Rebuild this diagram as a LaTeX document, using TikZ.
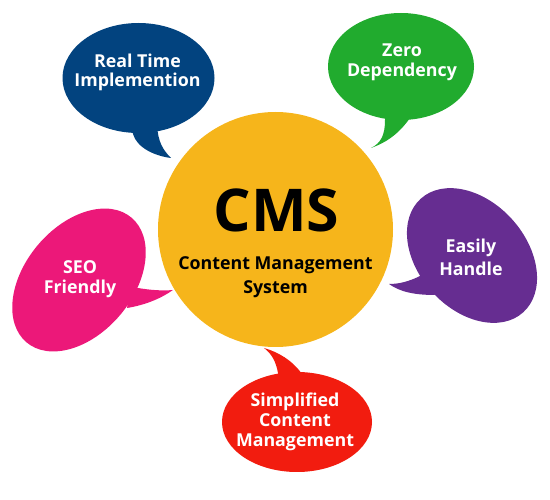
\documentclass[tikz,border=0pt]{standalone}
\usepackage{fontspec}
\setmainfont{Open Sans}
\usetikzlibrary{shapes.geometric}
\definecolor{cyel}{HTML}{F6B51B}
\definecolor{cblue}{HTML}{02437F}
\definecolor{cgreen}{HTML}{21AB2E}
\definecolor{cpurple}{HTML}{662D91}
\definecolor{cpink}{HTML}{EC1879}
\definecolor{cred}{HTML}{F21C0F}
\tikzset{
  bubble/.style={ellipse, inner sep=0pt, draw=none, fill=#1},
  tail/.style={fill=#1, draw=none},
  btext/.style={anchor=base, text=white, inner sep=0pt, font=\bfseries\fontsize{17.8}{20}\selectfont},
  ctext/.style={anchor=base, text=black, inner sep=0pt, font=\bfseries\fontsize{17.8}{20}\selectfont}
}
\begin{document}
\begin{tikzpicture}[x=1pt,y=-1pt]
\useasboundingbox (0,0) rectangle (550,500);
% tails
\fill[tail=cblue] (131,125) -- (133,134) .. controls (137,148) and (155,156) .. (171,158) .. controls (163,150) and (158,142) .. (157,125) -- cycle;
\fill[tail=cgreen] (386,112) -- (385,120) .. controls (385,135) and (381,143) .. (371,148) .. controls (385,143) and (398,135) .. (410,118) -- cycle;
\fill[tail=cpurple] (425,270) -- (420,276) .. controls (408,282) and (398,284) .. (389,284) .. controls (400,292) and (415,295) .. (435,295) -- cycle;
\fill[tail=cpink] (130,290) -- (138,288) .. controls (150,290) and (162,291) .. (173,290) .. controls (160,299) and (145,305) .. (127,308) -- cycle;
\fill[tail=cred] (280,380) -- (278,373) .. controls (276,362) and (272,354) .. (264,348) .. controls (278,352) and (292,360) .. (302,374) -- cycle;
% bubbles
\node[bubble=cblue, minimum width=152pt, minimum height=110pt] (rt) at (138.5,78) {};
\node[bubble=cgreen, minimum width=146pt, minimum height=107pt] (zd) at (401,66.5) {};
\node[bubble=cpurple, minimum width=153pt, minimum height=108pt, rotate=-48] (eh) at (472,255.5) {};
\node[bubble=cpink, minimum width=163pt, minimum height=108pt, rotate=50] (seo) at (79,280) {};
\node[bubble=cred, minimum width=150pt, minimum height=100pt] (scm) at (297,422) {};
% centre
\node[circle, fill=cyel, minimum size=235pt, inner sep=0pt] (cms) at (275.5,229.5) {};
\node[ctext, font=\bfseries\fontsize{59}{60}\selectfont] (cmsT) at (276.5,232) {CMS};
\node[ctext] (cms1) at (275.5,269.3) {Content Management};
\node[ctext] (cms2) at (275.5,293.3) {System};
% texts
\node[btext] (rt1) at (137.5,67.3) {Real Time};
\node[btext] (rt2) at (137.5,86.7) {Implemention};
\node[btext] (zd1) at (402,56.7) {Zero};
\node[btext] (zd2) at (402,76.7) {Dependency};
\node[btext] (eh1) at (471,252.3) {Easily};
\node[btext] (eh2) at (471,275.7) {Handle};
\node[btext] (seo1) at (80,274) {SEO};
\node[btext] (seo2) at (80,294) {Friendly};
\node[btext] (scm1) at (295,406.7) {Simplified};
\node[btext] (scm2) at (295,426.7) {Content};
\node[btext] (scm3) at (295,446.7) {Management};
\end{tikzpicture}
\end{document}
